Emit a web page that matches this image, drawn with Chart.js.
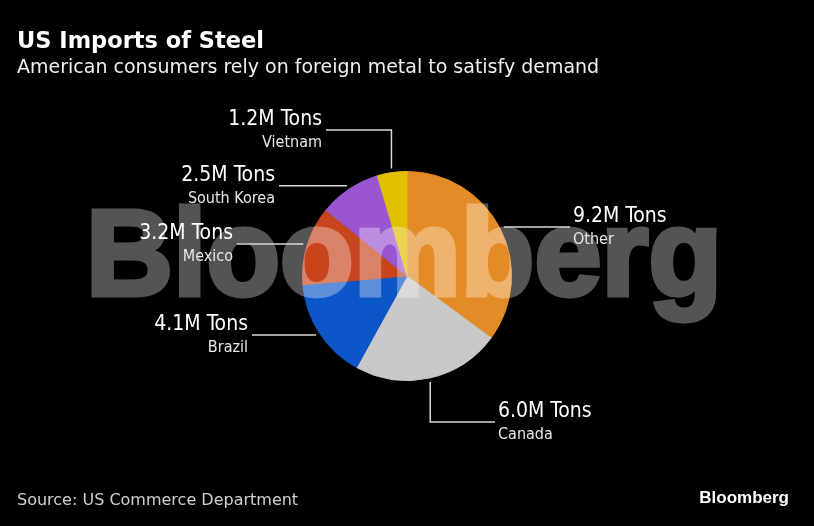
<!DOCTYPE html>
<html>
<head>
<meta charset="utf-8">
<script src="https://cdn.jsdelivr.net/npm/chart.js@4/dist/chart.umd.min.js"></script>
<style>
  html, body { margin: 0; padding: 0; background: #000; }
  canvas { display: block; }
</style>
</head>
<body>
<canvas id="steelChart" width="814" height="526"></canvas>
<script>
const titleText = 'US Imports of Steel';
const subtitleText = 'American consumers rely on foreign metal to satisfy demand';
const sourceText = 'Source: US Commerce Department';

const categories = ['Other', 'Canada', 'Brazil', 'Mexico', 'South Korea', 'Vietnam'];
const importTons = [9.2, 6.0, 4.1, 3.2, 2.5, 1.2];

const sliceColors = ['#e38c27', '#c9c9c9', '#0c56c8', '#c8441c', '#9a56d0', '#e0c000'];

// callout routing per slice: 'h' goes straight across, 'v' goes up/down first
const callouts = [
  { kind: 'h', lineX: 570 },
  { kind: 'v', lineY: 422, lineX: 495 },
  { kind: 'h', lineX: 252 },
  { kind: 'h', lineX: 237 },
  { kind: 'h', lineX: 279 },
  { kind: 'v', lineY: 130, lineX: 326 }
];

const condensed = '"DejaVu Sans Condensed", "DejaVu Sans", sans-serif';
const regular = '"DejaVu Sans", sans-serif';

const backdrop = {
  id: 'backdrop',
  beforeDraw(chart) {
    const ctx = chart.ctx;
    ctx.save();
    ctx.fillStyle = '#000';
    ctx.fillRect(0, 0, chart.width, chart.height);

    ctx.fillStyle = '#fff';
    ctx.textAlign = 'left';
    ctx.textBaseline = 'alphabetic';
    ctx.font = 'bold 22.5px ' + regular;
    ctx.fillText(titleText, 17, 48);

    ctx.fillStyle = '#f0f0f0';
    ctx.font = '19px ' + regular;
    ctx.fillText(subtitleText, 17, 73);

    ctx.fillStyle = '#d0d0d0';
    ctx.font = '16px ' + regular;
    ctx.fillText(sourceText, 17, 505);

    ctx.fillStyle = '#fff';
    ctx.font = 'bold 17px "Liberation Sans", Arial, sans-serif';
    ctx.textAlign = 'right';
    ctx.fillText('Bloomberg', 789, 503);
    ctx.restore();
  }
};

// big translucent wordmark laid over the pie (drawn opaque offscreen, then faded in)
const watermark = {
  id: 'watermark',
  afterDatasetsDraw(chart) {
    const off = document.createElement('canvas');
    off.width = chart.width;
    off.height = chart.height;
    const o = off.getContext('2d');
    o.font = 'bold 122px "Liberation Sans", Arial, sans-serif';
    o.textBaseline = 'alphabetic';
    const w = o.measureText('Bloomberg').width;
    o.translate(86, 295);
    o.scale(636 / w, 1);
    o.fillStyle = '#fff';
    o.strokeStyle = '#fff';
    o.lineWidth = 5;
    o.lineJoin = 'miter';
    o.fillText('Bloomberg', 0, 0);
    o.strokeText('Bloomberg', 0, 0);

    const ctx = chart.ctx;
    ctx.save();
    ctx.globalAlpha = 0.33;
    ctx.drawImage(off, 0, 0);
    ctx.restore();
  }
};

const calloutLabels = {
  id: 'calloutLabels',
  afterDraw(chart) {
    const ctx = chart.ctx;
    const meta = chart.getDatasetMeta(0);
    ctx.save();
    ctx.strokeStyle = '#d8d8d8';
    ctx.lineWidth = 1.5;
    meta.data.forEach((arc, i) => {
      const p = arc.getProps(['x', 'y', 'startAngle', 'endAngle', 'outerRadius'], true);
      const mid = (p.startAngle + p.endAngle) / 2;
      const px = p.x + Math.cos(mid) * (p.outerRadius + 4);
      const py = p.y + Math.sin(mid) * (p.outerRadius + 4);
      const c = callouts[i];
      let lineY = py;
      ctx.beginPath();
      ctx.moveTo(px, py);
      if (c.kind === 'v') {
        lineY = c.lineY;
        ctx.lineTo(px, lineY);
      }
      ctx.lineTo(c.lineX, lineY);
      ctx.stroke();

      const toLeft = c.lineX < px;
      const tx = toLeft ? c.lineX - 4 : c.lineX + 3;
      ctx.textAlign = toLeft ? 'right' : 'left';
      ctx.fillStyle = '#fff';
      ctx.font = '21px ' + condensed;
      ctx.fillText(importTons[i].toFixed(1) + 'M Tons', tx, lineY - 5);
      ctx.fillStyle = '#e8e8e8';
      ctx.font = '16px ' + condensed;
      ctx.fillText(categories[i], tx, lineY + 17);
    });
    ctx.restore();
  }
};

new Chart(document.getElementById('steelChart'), {
  type: 'pie',
  data: {
    labels: categories,
    datasets: [{
      data: importTons,
      backgroundColor: sliceColors,
      borderColor: sliceColors,
      borderWidth: 1
    }]
  },
  options: {
    responsive: false,
    animation: false,
    devicePixelRatio: 1,
    layout: {
      padding: { top: 171, bottom: 145, left: 0, right: 0 }
    },
    plugins: {
      legend: { display: false },
      tooltip: { enabled: false }
    }
  },
  plugins: [backdrop, watermark, calloutLabels]
});
</script>
</body>
</html>
